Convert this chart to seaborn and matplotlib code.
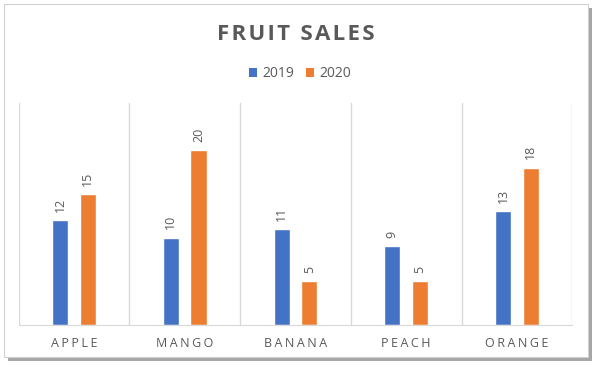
import matplotlib
matplotlib.use("Agg")
import matplotlib.pyplot as plt
import seaborn as sns
import pandas as pd
from matplotlib.patches import Rectangle, Patch

# Chart data
fruits = ["APPLE", "MANGO", "BANANA", "PEACH", "ORANGE"]
years = ["2019", "2020"]
sales_2019 = [12, 10, 11, 9, 13]
sales_2020 = [15, 20, 5, 5, 18]
colors = ["#4472C4", "#ED7D31"]

df = pd.DataFrame({
    "Fruit": fruits * 2,
    "Year": [years[0]] * len(fruits) + [years[1]] * len(fruits),
    "Sales": sales_2019 + sales_2020,
})

sns.set_style("white")
plt.rcParams["font.family"] = ["Open Sans", "DejaVu Sans"]

gray = "#595959"
hair = "\u200a"


def spaced(s, sep=hair):
    return sep.join(list(s))


fig = plt.figure(figsize=(5.98, 3.68), dpi=100)

# chart box with a drop shadow
fig.patches.append(Rectangle((0.013, 0.018), 0.977, 0.96, transform=fig.transFigure,
                             facecolor="#a6a6a6", edgecolor="none", zorder=-3))
fig.patches.append(Rectangle((0.006, 0.03), 0.977, 0.96, transform=fig.transFigure,
                             facecolor="white", edgecolor="#d0d0d0", lw=0.8, zorder=-2))

ax = fig.add_axes([0.031, 0.117, 0.926, 0.603])
sns.barplot(data=df, x="Fruit", y="Sales", hue="Year", palette=colors,
            width=0.5, gap=0.42, ax=ax, legend=False, saturation=1)

# data labels, rotated like the original
for cont in ax.containers:
    ax.bar_label(cont, rotation=90, padding=6, fontsize=9, color=gray)

ax.set_ylim(0, 25.4)
ax.set_xlim(-0.5, len(fruits) - 0.5)
ax.set_xlabel("")
ax.set_ylabel("")
ax.set_yticks([])
ax.set_xticks(range(len(fruits)))
ax.set_xticklabels([spaced(f, hair * 2) for f in fruits], fontsize=9, color=gray)
ax.tick_params(axis="x", length=0, pad=9)
ax.set_xticks([i - 0.5 for i in range(len(fruits) + 1)], minor=True)
ax.tick_params(axis="x", which="minor", length=0)
ax.grid(axis="x", which="minor", color="#d9d9d9", lw=1)
ax.set_axisbelow(True)
for side in ["left", "right", "top"]:
    ax.spines[side].set_visible(False)
ax.spines["bottom"].set_color("#d9d9d9")

fig.text(0.494, 0.905, spaced("FRUIT SALES"), ha="center", va="center",
         fontsize=16, fontweight="bold", color=gray)

handles = [Patch(facecolor=c, edgecolor="none") for c in colors]
fig.legend(handles, years, loc="center", bbox_to_anchor=(0.502, 0.8), ncol=2,
           frameon=False, fontsize=10, handlelength=0.6, handleheight=0.6,
           handletextpad=0.4, columnspacing=0.8, labelcolor=gray)

fig.savefig("out.png", dpi=100)
